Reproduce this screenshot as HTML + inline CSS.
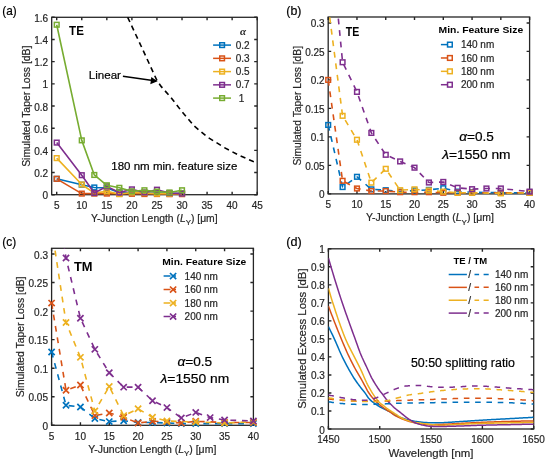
<!DOCTYPE html>
<html><head><meta charset="utf-8"><style>html,body{margin:0;padding:0;background:#fff;}svg{display:block}</style></head>
<body><svg width="550" height="466" viewBox="0 0 550 466">
<defs><filter id="bl" x="0" y="0" width="100%" height="100%"><feGaussianBlur stdDeviation="0.4"/></filter></defs>
<g filter="url(#bl)">
<rect width="550" height="466" fill="#fff"/>
<clipPath id="ca"><rect x="51.70" y="17.30" width="205.50" height="177.40"/></clipPath>
<path d="M56.71 194.70v-3.0M56.71 17.30v3.0M81.77 194.70v-3.0M81.77 17.30v3.0M106.83 194.70v-3.0M106.83 17.30v3.0M131.90 194.70v-3.0M131.90 17.30v3.0M156.96 194.70v-3.0M156.96 17.30v3.0M182.02 194.70v-3.0M182.02 17.30v3.0M207.08 194.70v-3.0M207.08 17.30v3.0M232.14 194.70v-3.0M232.14 17.30v3.0M257.20 194.70v-3.0M257.20 17.30v3.0M51.70 194.70h3.0M257.20 194.70h-3.0M51.70 172.52h3.0M257.20 172.52h-3.0M51.70 150.35h3.0M257.20 150.35h-3.0M51.70 128.18h3.0M257.20 128.18h-3.0M51.70 106.00h3.0M257.20 106.00h-3.0M51.70 83.83h3.0M257.20 83.83h-3.0M51.70 61.65h3.0M257.20 61.65h-3.0M51.70 39.48h3.0M257.20 39.48h-3.0M51.70 17.30h3.0M257.20 17.30h-3.0" stroke="#262626" stroke-width="1.4" fill="none"/>
<rect x="51.70" y="17.30" width="205.50" height="177.40" fill="none" stroke="#262626" stroke-width="1.3"/>
<g font-family="Liberation Sans, sans-serif" font-size="10" fill="#262626" stroke="#262626" stroke-width="0.2">
<text x="56.71" y="208.90" text-anchor="middle">5</text>
<text x="81.77" y="208.90" text-anchor="middle">10</text>
<text x="106.83" y="208.90" text-anchor="middle">15</text>
<text x="131.90" y="208.90" text-anchor="middle">20</text>
<text x="156.96" y="208.90" text-anchor="middle">25</text>
<text x="182.02" y="208.90" text-anchor="middle">30</text>
<text x="207.08" y="208.90" text-anchor="middle">35</text>
<text x="232.14" y="208.90" text-anchor="middle">40</text>
<text x="257.20" y="208.90" text-anchor="middle">45</text>
<text x="48.10" y="199.20" text-anchor="end">0</text>
<text x="48.10" y="177.02" text-anchor="end">0.2</text>
<text x="48.10" y="154.85" text-anchor="end">0.4</text>
<text x="48.10" y="132.68" text-anchor="end">0.6</text>
<text x="48.10" y="110.50" text-anchor="end">0.8</text>
<text x="48.10" y="88.33" text-anchor="end">1</text>
<text x="48.10" y="66.15" text-anchor="end">1.2</text>
<text x="48.10" y="43.98" text-anchor="end">1.4</text>
<text x="48.10" y="21.80" text-anchor="end">1.6</text>
</g>
<polyline clip-path="url(#ca)" points="56.71,178.84 81.77,184.72 94.30,187.49 106.83,188.05 119.36,192.48 131.90,192.48 144.43,193.04 156.96,193.04 169.49,193.59 182.02,193.37" fill="none" stroke="#0072BD" stroke-width="1.6" stroke-linejoin="round"/>
<rect x="54.36" y="176.49" width="4.7" height="4.7" fill="none" stroke="#0072BD" stroke-width="1.5"/>
<rect x="79.42" y="182.37" width="4.7" height="4.7" fill="none" stroke="#0072BD" stroke-width="1.5"/>
<rect x="91.95" y="185.14" width="4.7" height="4.7" fill="none" stroke="#0072BD" stroke-width="1.5"/>
<rect x="104.48" y="185.70" width="4.7" height="4.7" fill="none" stroke="#0072BD" stroke-width="1.5"/>
<rect x="117.01" y="190.13" width="4.7" height="4.7" fill="none" stroke="#0072BD" stroke-width="1.5"/>
<rect x="129.55" y="190.13" width="4.7" height="4.7" fill="none" stroke="#0072BD" stroke-width="1.5"/>
<rect x="142.08" y="190.69" width="4.7" height="4.7" fill="none" stroke="#0072BD" stroke-width="1.5"/>
<rect x="154.61" y="190.69" width="4.7" height="4.7" fill="none" stroke="#0072BD" stroke-width="1.5"/>
<rect x="167.14" y="191.24" width="4.7" height="4.7" fill="none" stroke="#0072BD" stroke-width="1.5"/>
<rect x="179.67" y="191.02" width="4.7" height="4.7" fill="none" stroke="#0072BD" stroke-width="1.5"/>
<polyline clip-path="url(#ca)" points="56.71,178.84 81.77,193.59 94.30,193.59 106.83,193.59 119.36,193.81 131.90,193.81 144.43,194.03 156.96,194.03 169.49,194.15 182.02,194.15" fill="none" stroke="#D95319" stroke-width="1.6" stroke-linejoin="round"/>
<rect x="54.36" y="176.49" width="4.7" height="4.7" fill="none" stroke="#D95319" stroke-width="1.5"/>
<rect x="79.42" y="191.24" width="4.7" height="4.7" fill="none" stroke="#D95319" stroke-width="1.5"/>
<rect x="91.95" y="191.24" width="4.7" height="4.7" fill="none" stroke="#D95319" stroke-width="1.5"/>
<rect x="104.48" y="191.24" width="4.7" height="4.7" fill="none" stroke="#D95319" stroke-width="1.5"/>
<rect x="117.01" y="191.46" width="4.7" height="4.7" fill="none" stroke="#D95319" stroke-width="1.5"/>
<rect x="129.55" y="191.46" width="4.7" height="4.7" fill="none" stroke="#D95319" stroke-width="1.5"/>
<rect x="142.08" y="191.68" width="4.7" height="4.7" fill="none" stroke="#D95319" stroke-width="1.5"/>
<rect x="154.61" y="191.68" width="4.7" height="4.7" fill="none" stroke="#D95319" stroke-width="1.5"/>
<rect x="167.14" y="191.80" width="4.7" height="4.7" fill="none" stroke="#D95319" stroke-width="1.5"/>
<rect x="179.67" y="191.80" width="4.7" height="4.7" fill="none" stroke="#D95319" stroke-width="1.5"/>
<polyline clip-path="url(#ca)" points="56.71,158.11 81.77,184.50 94.30,193.04 106.83,191.37 119.36,194.15 131.90,192.48 144.43,193.04 156.96,193.59 169.49,193.81 182.02,193.59" fill="none" stroke="#EDB120" stroke-width="1.6" stroke-linejoin="round"/>
<rect x="54.36" y="155.76" width="4.7" height="4.7" fill="none" stroke="#EDB120" stroke-width="1.5"/>
<rect x="79.42" y="182.15" width="4.7" height="4.7" fill="none" stroke="#EDB120" stroke-width="1.5"/>
<rect x="91.95" y="190.69" width="4.7" height="4.7" fill="none" stroke="#EDB120" stroke-width="1.5"/>
<rect x="104.48" y="189.02" width="4.7" height="4.7" fill="none" stroke="#EDB120" stroke-width="1.5"/>
<rect x="117.01" y="191.80" width="4.7" height="4.7" fill="none" stroke="#EDB120" stroke-width="1.5"/>
<rect x="129.55" y="190.13" width="4.7" height="4.7" fill="none" stroke="#EDB120" stroke-width="1.5"/>
<rect x="142.08" y="190.69" width="4.7" height="4.7" fill="none" stroke="#EDB120" stroke-width="1.5"/>
<rect x="154.61" y="191.24" width="4.7" height="4.7" fill="none" stroke="#EDB120" stroke-width="1.5"/>
<rect x="167.14" y="191.46" width="4.7" height="4.7" fill="none" stroke="#EDB120" stroke-width="1.5"/>
<rect x="179.67" y="191.24" width="4.7" height="4.7" fill="none" stroke="#EDB120" stroke-width="1.5"/>
<polyline clip-path="url(#ca)" points="56.71,142.59 81.77,175.19 94.30,193.04 106.83,186.38 119.36,192.48 131.90,189.38 144.43,192.48 156.96,189.71 169.49,193.04 182.02,193.59" fill="none" stroke="#7E2F8E" stroke-width="1.6" stroke-linejoin="round"/>
<rect x="54.36" y="140.24" width="4.7" height="4.7" fill="none" stroke="#7E2F8E" stroke-width="1.5"/>
<rect x="79.42" y="172.84" width="4.7" height="4.7" fill="none" stroke="#7E2F8E" stroke-width="1.5"/>
<rect x="91.95" y="190.69" width="4.7" height="4.7" fill="none" stroke="#7E2F8E" stroke-width="1.5"/>
<rect x="104.48" y="184.03" width="4.7" height="4.7" fill="none" stroke="#7E2F8E" stroke-width="1.5"/>
<rect x="117.01" y="190.13" width="4.7" height="4.7" fill="none" stroke="#7E2F8E" stroke-width="1.5"/>
<rect x="129.55" y="187.03" width="4.7" height="4.7" fill="none" stroke="#7E2F8E" stroke-width="1.5"/>
<rect x="142.08" y="190.13" width="4.7" height="4.7" fill="none" stroke="#7E2F8E" stroke-width="1.5"/>
<rect x="154.61" y="187.36" width="4.7" height="4.7" fill="none" stroke="#7E2F8E" stroke-width="1.5"/>
<rect x="167.14" y="190.69" width="4.7" height="4.7" fill="none" stroke="#7E2F8E" stroke-width="1.5"/>
<rect x="179.67" y="191.24" width="4.7" height="4.7" fill="none" stroke="#7E2F8E" stroke-width="1.5"/>
<polyline clip-path="url(#ca)" points="56.71,24.73 81.77,140.37 94.30,174.96 106.83,185.28 119.36,187.83 131.90,191.37 144.43,190.26 156.96,191.60 169.49,192.48 182.02,190.26" fill="none" stroke="#77AC30" stroke-width="1.6" stroke-linejoin="round"/>
<rect x="54.36" y="22.38" width="4.7" height="4.7" fill="none" stroke="#77AC30" stroke-width="1.5"/>
<rect x="79.42" y="138.02" width="4.7" height="4.7" fill="none" stroke="#77AC30" stroke-width="1.5"/>
<rect x="91.95" y="172.61" width="4.7" height="4.7" fill="none" stroke="#77AC30" stroke-width="1.5"/>
<rect x="104.48" y="182.93" width="4.7" height="4.7" fill="none" stroke="#77AC30" stroke-width="1.5"/>
<rect x="117.01" y="185.48" width="4.7" height="4.7" fill="none" stroke="#77AC30" stroke-width="1.5"/>
<rect x="129.55" y="189.02" width="4.7" height="4.7" fill="none" stroke="#77AC30" stroke-width="1.5"/>
<rect x="142.08" y="187.91" width="4.7" height="4.7" fill="none" stroke="#77AC30" stroke-width="1.5"/>
<rect x="154.61" y="189.25" width="4.7" height="4.7" fill="none" stroke="#77AC30" stroke-width="1.5"/>
<rect x="167.14" y="190.13" width="4.7" height="4.7" fill="none" stroke="#77AC30" stroke-width="1.5"/>
<rect x="179.67" y="187.91" width="4.7" height="4.7" fill="none" stroke="#77AC30" stroke-width="1.5"/>
<polyline points="127.7,17.3 142,48 156.9,80.4 161.1,86.4 170.7,97.2 181.5,111.1 194.3,126.1 207.2,136.9 224.4,147.6 239.4,155.5 253.3,161.5 257.2,162.8" fill="none" stroke="#000" stroke-width="1.6" stroke-dasharray="5.2 4"/>
<text x="88.70" y="78.90" font-family="Liberation Sans, sans-serif" font-size="11.4" text-anchor="start" fill="#000" stroke="#000" stroke-width="0.2" textLength="32.3" lengthAdjust="spacingAndGlyphs">Linear</text>
<path d="M122.9 76.3L151 80.3" stroke="#000" stroke-width="1.4"/>
<path d="M157.6 81.3L150.3 84.2L151.3 77.0Z" fill="#000"/>
<text x="69.10" y="35.20" font-family="Liberation Sans, sans-serif" font-size="12.5" text-anchor="start" fill="#000" stroke="#000" stroke-width="0" font-weight="bold" textLength="14.8" lengthAdjust="spacingAndGlyphs">TE</text>
<text x="111.30" y="170.00" font-family="Liberation Sans, sans-serif" font-size="11.5" text-anchor="start" fill="#000" stroke="#000" stroke-width="0.2" textLength="126" lengthAdjust="spacingAndGlyphs">180 nm min. feature size</text>
<text x="243" y="35" font-family="Liberation Serif, serif" font-size="11" font-style="italic" font-weight="bold" text-anchor="middle" fill="#262626">α</text>
<path d="M213.1 45.10H231" stroke="#0072BD" stroke-width="1.5"/>
<rect x="219.75" y="42.75" width="4.7" height="4.7" fill="none" stroke="#0072BD" stroke-width="1.5"/>
<text x="235.70" y="48.70" font-family="Liberation Sans, sans-serif" font-size="10" text-anchor="start" fill="#262626" stroke="#262626" stroke-width="0.2">0.2</text>
<path d="M213.1 58.35H231" stroke="#D95319" stroke-width="1.5"/>
<rect x="219.75" y="56.00" width="4.7" height="4.7" fill="none" stroke="#D95319" stroke-width="1.5"/>
<text x="235.70" y="61.95" font-family="Liberation Sans, sans-serif" font-size="10" text-anchor="start" fill="#262626" stroke="#262626" stroke-width="0.2">0.3</text>
<path d="M213.1 71.60H231" stroke="#EDB120" stroke-width="1.5"/>
<rect x="219.75" y="69.25" width="4.7" height="4.7" fill="none" stroke="#EDB120" stroke-width="1.5"/>
<text x="235.70" y="75.20" font-family="Liberation Sans, sans-serif" font-size="10" text-anchor="start" fill="#262626" stroke="#262626" stroke-width="0.2">0.5</text>
<path d="M213.1 84.85H231" stroke="#7E2F8E" stroke-width="1.5"/>
<rect x="219.75" y="82.50" width="4.7" height="4.7" fill="none" stroke="#7E2F8E" stroke-width="1.5"/>
<text x="235.70" y="88.45" font-family="Liberation Sans, sans-serif" font-size="10" text-anchor="start" fill="#262626" stroke="#262626" stroke-width="0.2">0.7</text>
<path d="M213.1 98.10H231" stroke="#77AC30" stroke-width="1.5"/>
<rect x="219.75" y="95.75" width="4.7" height="4.7" fill="none" stroke="#77AC30" stroke-width="1.5"/>
<text x="241.50" y="101.70" font-family="Liberation Sans, sans-serif" font-size="10" text-anchor="middle" fill="#262626" stroke="#262626" stroke-width="0.2">1</text>
<text transform="translate(30.40,106.20) rotate(-90)" x="0" y="0" font-family="Liberation Sans, sans-serif" font-size="10.5" text-anchor="middle" fill="#262626" stroke="#262626" stroke-width="0.2" textLength="121.3" lengthAdjust="spacingAndGlyphs">Simulated Taper Loss [dB]</text>
<text x="154.30" y="221.80" font-family="Liberation Sans, sans-serif" font-size="10.5" text-anchor="middle" fill="#262626" stroke="#262626" stroke-width="0.2" textLength="126.7" lengthAdjust="spacingAndGlyphs">Y-Junction Length (<tspan font-style="italic">L</tspan><tspan font-size="8.0" dy="3.2">Y</tspan><tspan dy="-3.2">) [μm]</tspan></text>
<text x="2.30" y="14.80" font-family="Liberation Sans, sans-serif" font-size="13" text-anchor="start" fill="#000" stroke="#000" stroke-width="0.2" textLength="14.4" lengthAdjust="spacingAndGlyphs">(a)</text>
<clipPath id="cb"><rect x="328.20" y="17.00" width="201.40" height="176.90"/></clipPath>
<path d="M328.20 193.90v-3.0M328.20 17.00v3.0M356.97 193.90v-3.0M356.97 17.00v3.0M385.74 193.90v-3.0M385.74 17.00v3.0M414.51 193.90v-3.0M414.51 17.00v3.0M443.29 193.90v-3.0M443.29 17.00v3.0M472.06 193.90v-3.0M472.06 17.00v3.0M500.83 193.90v-3.0M500.83 17.00v3.0M529.60 193.90v-3.0M529.60 17.00v3.0M328.20 193.90h3.0M529.60 193.90h-3.0M328.20 165.40h3.0M529.60 165.40h-3.0M328.20 136.91h3.0M529.60 136.91h-3.0M328.20 108.41h3.0M529.60 108.41h-3.0M328.20 79.92h3.0M529.60 79.92h-3.0M328.20 51.42h3.0M529.60 51.42h-3.0M328.20 22.93h3.0M529.60 22.93h-3.0" stroke="#262626" stroke-width="1.4" fill="none"/>
<rect x="328.20" y="17.00" width="201.40" height="176.90" fill="none" stroke="#262626" stroke-width="1.3"/>
<g font-family="Liberation Sans, sans-serif" font-size="10" fill="#262626" stroke="#262626" stroke-width="0.2">
<text x="328.20" y="208.10" text-anchor="middle">5</text>
<text x="356.97" y="208.10" text-anchor="middle">10</text>
<text x="385.74" y="208.10" text-anchor="middle">15</text>
<text x="414.51" y="208.10" text-anchor="middle">20</text>
<text x="443.29" y="208.10" text-anchor="middle">25</text>
<text x="472.06" y="208.10" text-anchor="middle">30</text>
<text x="500.83" y="208.10" text-anchor="middle">35</text>
<text x="529.60" y="208.10" text-anchor="middle">40</text>
<text x="324.60" y="198.40" text-anchor="end">0</text>
<text x="324.60" y="169.90" text-anchor="end">0.05</text>
<text x="324.60" y="141.41" text-anchor="end">0.1</text>
<text x="324.60" y="112.91" text-anchor="end">0.15</text>
<text x="324.60" y="84.42" text-anchor="end">0.2</text>
<text x="324.60" y="55.92" text-anchor="end">0.25</text>
<text x="324.60" y="27.43" text-anchor="end">0.3</text>
</g>
<polyline clip-path="url(#cb)" points="328.20,124.94 342.59,187.06 356.97,176.80 371.36,189.34 385.74,190.20 400.13,191.62 414.51,190.48 428.90,189.91 443.29,188.20 457.67,191.62 472.06,192.19 500.83,192.76 529.60,192.76" fill="none" stroke="#0072BD" stroke-width="1.6" stroke-dasharray="5.8 5.8" stroke-linejoin="round"/>
<rect x="325.85" y="122.59" width="4.7" height="4.7" fill="none" stroke="#0072BD" stroke-width="1.5"/>
<rect x="340.24" y="184.71" width="4.7" height="4.7" fill="none" stroke="#0072BD" stroke-width="1.5"/>
<rect x="354.62" y="174.45" width="4.7" height="4.7" fill="none" stroke="#0072BD" stroke-width="1.5"/>
<rect x="369.01" y="186.99" width="4.7" height="4.7" fill="none" stroke="#0072BD" stroke-width="1.5"/>
<rect x="383.39" y="187.85" width="4.7" height="4.7" fill="none" stroke="#0072BD" stroke-width="1.5"/>
<rect x="397.78" y="189.27" width="4.7" height="4.7" fill="none" stroke="#0072BD" stroke-width="1.5"/>
<rect x="412.16" y="188.13" width="4.7" height="4.7" fill="none" stroke="#0072BD" stroke-width="1.5"/>
<rect x="426.55" y="187.56" width="4.7" height="4.7" fill="none" stroke="#0072BD" stroke-width="1.5"/>
<rect x="440.94" y="185.85" width="4.7" height="4.7" fill="none" stroke="#0072BD" stroke-width="1.5"/>
<rect x="455.32" y="189.27" width="4.7" height="4.7" fill="none" stroke="#0072BD" stroke-width="1.5"/>
<rect x="469.71" y="189.84" width="4.7" height="4.7" fill="none" stroke="#0072BD" stroke-width="1.5"/>
<rect x="498.48" y="190.41" width="4.7" height="4.7" fill="none" stroke="#0072BD" stroke-width="1.5"/>
<rect x="527.25" y="190.41" width="4.7" height="4.7" fill="none" stroke="#0072BD" stroke-width="1.5"/>
<polyline clip-path="url(#cb)" points="328.20,79.92 342.59,180.79 356.97,188.49 371.36,191.05 385.74,191.05 400.13,192.19 414.51,192.19 428.90,192.19 443.29,192.76 457.67,192.76 472.06,192.76 500.83,192.76 529.60,192.76" fill="none" stroke="#D95319" stroke-width="1.6" stroke-dasharray="5.8 5.8" stroke-linejoin="round"/>
<rect x="325.85" y="77.57" width="4.7" height="4.7" fill="none" stroke="#D95319" stroke-width="1.5"/>
<rect x="340.24" y="178.44" width="4.7" height="4.7" fill="none" stroke="#D95319" stroke-width="1.5"/>
<rect x="354.62" y="186.14" width="4.7" height="4.7" fill="none" stroke="#D95319" stroke-width="1.5"/>
<rect x="369.01" y="188.70" width="4.7" height="4.7" fill="none" stroke="#D95319" stroke-width="1.5"/>
<rect x="383.39" y="188.70" width="4.7" height="4.7" fill="none" stroke="#D95319" stroke-width="1.5"/>
<rect x="397.78" y="189.84" width="4.7" height="4.7" fill="none" stroke="#D95319" stroke-width="1.5"/>
<rect x="412.16" y="189.84" width="4.7" height="4.7" fill="none" stroke="#D95319" stroke-width="1.5"/>
<rect x="426.55" y="189.84" width="4.7" height="4.7" fill="none" stroke="#D95319" stroke-width="1.5"/>
<rect x="440.94" y="190.41" width="4.7" height="4.7" fill="none" stroke="#D95319" stroke-width="1.5"/>
<rect x="455.32" y="190.41" width="4.7" height="4.7" fill="none" stroke="#D95319" stroke-width="1.5"/>
<rect x="469.71" y="190.41" width="4.7" height="4.7" fill="none" stroke="#D95319" stroke-width="1.5"/>
<rect x="498.48" y="190.41" width="4.7" height="4.7" fill="none" stroke="#D95319" stroke-width="1.5"/>
<rect x="527.25" y="190.41" width="4.7" height="4.7" fill="none" stroke="#D95319" stroke-width="1.5"/>
<polyline clip-path="url(#cb)" points="328.20,5.83 342.59,115.82 356.97,139.76 371.36,182.67 385.74,168.82 400.13,190.20 414.51,189.34 428.90,190.48 443.29,191.62 457.67,192.76 472.06,192.76 500.83,193.33 529.60,192.76" fill="none" stroke="#EDB120" stroke-width="1.6" stroke-dasharray="5.8 5.8" stroke-linejoin="round"/>
<rect x="340.24" y="113.47" width="4.7" height="4.7" fill="none" stroke="#EDB120" stroke-width="1.5"/>
<rect x="354.62" y="137.41" width="4.7" height="4.7" fill="none" stroke="#EDB120" stroke-width="1.5"/>
<rect x="369.01" y="180.32" width="4.7" height="4.7" fill="none" stroke="#EDB120" stroke-width="1.5"/>
<rect x="383.39" y="166.47" width="4.7" height="4.7" fill="none" stroke="#EDB120" stroke-width="1.5"/>
<rect x="397.78" y="187.85" width="4.7" height="4.7" fill="none" stroke="#EDB120" stroke-width="1.5"/>
<rect x="412.16" y="186.99" width="4.7" height="4.7" fill="none" stroke="#EDB120" stroke-width="1.5"/>
<rect x="426.55" y="188.13" width="4.7" height="4.7" fill="none" stroke="#EDB120" stroke-width="1.5"/>
<rect x="440.94" y="189.27" width="4.7" height="4.7" fill="none" stroke="#EDB120" stroke-width="1.5"/>
<rect x="455.32" y="190.41" width="4.7" height="4.7" fill="none" stroke="#EDB120" stroke-width="1.5"/>
<rect x="469.71" y="190.41" width="4.7" height="4.7" fill="none" stroke="#EDB120" stroke-width="1.5"/>
<rect x="498.48" y="190.98" width="4.7" height="4.7" fill="none" stroke="#EDB120" stroke-width="1.5"/>
<rect x="527.25" y="190.41" width="4.7" height="4.7" fill="none" stroke="#EDB120" stroke-width="1.5"/>
<polyline clip-path="url(#cb)" points="328.20,-85.36 342.59,62.25 356.97,91.89 371.36,132.92 385.74,154.80 400.13,161.42 414.51,167.68 428.90,182.50 443.29,181.93 457.67,187.80 472.06,189.17 486.44,188.49 500.83,188.49 529.60,191.62" fill="none" stroke="#7E2F8E" stroke-width="1.6" stroke-dasharray="5.8 5.8" stroke-linejoin="round"/>
<rect x="340.24" y="59.90" width="4.7" height="4.7" fill="none" stroke="#7E2F8E" stroke-width="1.5"/>
<rect x="354.62" y="89.54" width="4.7" height="4.7" fill="none" stroke="#7E2F8E" stroke-width="1.5"/>
<rect x="369.01" y="130.57" width="4.7" height="4.7" fill="none" stroke="#7E2F8E" stroke-width="1.5"/>
<rect x="383.39" y="152.45" width="4.7" height="4.7" fill="none" stroke="#7E2F8E" stroke-width="1.5"/>
<rect x="397.78" y="159.07" width="4.7" height="4.7" fill="none" stroke="#7E2F8E" stroke-width="1.5"/>
<rect x="412.16" y="165.33" width="4.7" height="4.7" fill="none" stroke="#7E2F8E" stroke-width="1.5"/>
<rect x="426.55" y="180.15" width="4.7" height="4.7" fill="none" stroke="#7E2F8E" stroke-width="1.5"/>
<rect x="440.94" y="179.58" width="4.7" height="4.7" fill="none" stroke="#7E2F8E" stroke-width="1.5"/>
<rect x="455.32" y="185.45" width="4.7" height="4.7" fill="none" stroke="#7E2F8E" stroke-width="1.5"/>
<rect x="469.71" y="186.82" width="4.7" height="4.7" fill="none" stroke="#7E2F8E" stroke-width="1.5"/>
<rect x="484.09" y="186.14" width="4.7" height="4.7" fill="none" stroke="#7E2F8E" stroke-width="1.5"/>
<rect x="498.48" y="186.14" width="4.7" height="4.7" fill="none" stroke="#7E2F8E" stroke-width="1.5"/>
<rect x="527.25" y="189.27" width="4.7" height="4.7" fill="none" stroke="#7E2F8E" stroke-width="1.5"/>
<text x="345.80" y="36.00" font-family="Liberation Sans, sans-serif" font-size="12.5" text-anchor="start" fill="#000" stroke="#000" stroke-width="0" font-weight="bold" textLength="13.5" lengthAdjust="spacingAndGlyphs">TE</text>
<text x="438.60" y="33.10" font-family="Liberation Sans, sans-serif" font-size="9.6" text-anchor="start" fill="#000" stroke="#000" stroke-width="0" font-weight="bold" textLength="84.6" lengthAdjust="spacingAndGlyphs">Min. Feature Size</text>
<path d="M440.9 44.60H447" stroke="#0072BD" stroke-width="1.5"/>
<rect x="447.55" y="42.25" width="4.7" height="4.7" fill="none" stroke="#0072BD" stroke-width="1.5"/>
<text x="460.90" y="48.20" font-family="Liberation Sans, sans-serif" font-size="10" text-anchor="start" fill="#262626" stroke="#262626" stroke-width="0.2">140 nm</text>
<path d="M440.9 57.97H447" stroke="#D95319" stroke-width="1.5"/>
<rect x="447.55" y="55.62" width="4.7" height="4.7" fill="none" stroke="#D95319" stroke-width="1.5"/>
<text x="460.90" y="61.57" font-family="Liberation Sans, sans-serif" font-size="10" text-anchor="start" fill="#262626" stroke="#262626" stroke-width="0.2">160 nm</text>
<path d="M440.9 71.34H447" stroke="#EDB120" stroke-width="1.5"/>
<rect x="447.55" y="68.99" width="4.7" height="4.7" fill="none" stroke="#EDB120" stroke-width="1.5"/>
<text x="460.90" y="74.94" font-family="Liberation Sans, sans-serif" font-size="10" text-anchor="start" fill="#262626" stroke="#262626" stroke-width="0.2">180 nm</text>
<path d="M440.9 84.71H447" stroke="#7E2F8E" stroke-width="1.5"/>
<rect x="447.55" y="82.36" width="4.7" height="4.7" fill="none" stroke="#7E2F8E" stroke-width="1.5"/>
<text x="460.90" y="88.31" font-family="Liberation Sans, sans-serif" font-size="10" text-anchor="start" fill="#262626" stroke="#262626" stroke-width="0.2">200 nm</text>
<text x="459.30" y="140.90" font-family="Liberation Sans, sans-serif" font-size="13" text-anchor="start" fill="#000" stroke="#000" stroke-width="0.2" textLength="34.5" lengthAdjust="spacingAndGlyphs"><tspan font-style="italic">α</tspan>=0.5</text>
<text x="442.20" y="159.00" font-family="Liberation Sans, sans-serif" font-size="13" text-anchor="start" fill="#000" stroke="#000" stroke-width="0.2" textLength="68.3" lengthAdjust="spacingAndGlyphs"><tspan font-style="italic">λ</tspan>=1550 nm</text>
<text transform="translate(300.90,105.80) rotate(-90)" x="0" y="0" font-family="Liberation Sans, sans-serif" font-size="10.5" text-anchor="middle" fill="#262626" stroke="#262626" stroke-width="0.2" textLength="119.6" lengthAdjust="spacingAndGlyphs">Simulated Taper Loss [dB]</text>
<text x="429.90" y="221.40" font-family="Liberation Sans, sans-serif" font-size="10.5" text-anchor="middle" fill="#262626" stroke="#262626" stroke-width="0.2" textLength="128" lengthAdjust="spacingAndGlyphs">Y-Junction Length (<tspan font-style="italic">L</tspan><tspan font-size="8.0" dy="3.2">Y</tspan><tspan dy="-3.2">) [μm]</tspan></text>
<text x="286.30" y="14.80" font-family="Liberation Sans, sans-serif" font-size="13" text-anchor="start" fill="#000" stroke="#000" stroke-width="0.2" textLength="15.1" lengthAdjust="spacingAndGlyphs">(b)</text>
<clipPath id="cc"><rect x="51.60" y="248.30" width="201.80" height="177.00"/></clipPath>
<path d="M51.60 425.30v-3.0M51.60 248.30v3.0M80.43 425.30v-3.0M80.43 248.30v3.0M109.26 425.30v-3.0M109.26 248.30v3.0M138.09 425.30v-3.0M138.09 248.30v3.0M166.91 425.30v-3.0M166.91 248.30v3.0M195.74 425.30v-3.0M195.74 248.30v3.0M224.57 425.30v-3.0M224.57 248.30v3.0M253.40 425.30v-3.0M253.40 248.30v3.0M51.60 425.30h3.0M253.40 425.30h-3.0M51.60 396.75h3.0M253.40 396.75h-3.0M51.60 368.20h3.0M253.40 368.20h-3.0M51.60 339.65h3.0M253.40 339.65h-3.0M51.60 311.10h3.0M253.40 311.10h-3.0M51.60 282.55h3.0M253.40 282.55h-3.0M51.60 254.00h3.0M253.40 254.00h-3.0" stroke="#262626" stroke-width="1.4" fill="none"/>
<rect x="51.60" y="248.30" width="201.80" height="177.00" fill="none" stroke="#262626" stroke-width="1.3"/>
<g font-family="Liberation Sans, sans-serif" font-size="10" fill="#262626" stroke="#262626" stroke-width="0.2">
<text x="51.60" y="439.50" text-anchor="middle">5</text>
<text x="80.43" y="439.50" text-anchor="middle">10</text>
<text x="109.26" y="439.50" text-anchor="middle">15</text>
<text x="138.09" y="439.50" text-anchor="middle">20</text>
<text x="166.91" y="439.50" text-anchor="middle">25</text>
<text x="195.74" y="439.50" text-anchor="middle">30</text>
<text x="224.57" y="439.50" text-anchor="middle">35</text>
<text x="253.40" y="439.50" text-anchor="middle">40</text>
<text x="48.00" y="429.80" text-anchor="end">0</text>
<text x="48.00" y="401.25" text-anchor="end">0.05</text>
<text x="48.00" y="372.70" text-anchor="end">0.1</text>
<text x="48.00" y="344.15" text-anchor="end">0.15</text>
<text x="48.00" y="315.60" text-anchor="end">0.2</text>
<text x="48.00" y="287.05" text-anchor="end">0.25</text>
<text x="48.00" y="258.50" text-anchor="end">0.3</text>
</g>
<polyline clip-path="url(#cc)" points="51.60,351.93 66.01,405.31 80.43,407.03 94.84,418.45 109.26,421.59 123.67,420.73 138.09,422.44 152.50,422.44 166.91,423.02 181.33,423.59 195.74,423.59 224.57,423.59 253.40,423.59" fill="none" stroke="#0072BD" stroke-width="1.6" stroke-dasharray="5.8 5.8" stroke-linejoin="round"/>
<path d="M48.50 348.83L54.70 355.03M48.50 355.03L54.70 348.83" stroke="#0072BD" stroke-width="1.7" fill="none"/>
<path d="M62.91 402.21L69.11 408.42M62.91 408.42L69.11 402.21" stroke="#0072BD" stroke-width="1.7" fill="none"/>
<path d="M77.33 403.93L83.53 410.13M77.33 410.13L83.53 403.93" stroke="#0072BD" stroke-width="1.7" fill="none"/>
<path d="M91.74 415.35L97.94 421.55M91.74 421.55L97.94 415.35" stroke="#0072BD" stroke-width="1.7" fill="none"/>
<path d="M106.16 418.49L112.36 424.69M106.16 424.69L112.36 418.49" stroke="#0072BD" stroke-width="1.7" fill="none"/>
<path d="M120.57 417.63L126.77 423.83M120.57 423.83L126.77 417.63" stroke="#0072BD" stroke-width="1.7" fill="none"/>
<path d="M134.99 419.34L141.19 425.55M134.99 425.55L141.19 419.34" stroke="#0072BD" stroke-width="1.7" fill="none"/>
<path d="M149.40 419.34L155.60 425.55M149.40 425.55L155.60 419.34" stroke="#0072BD" stroke-width="1.7" fill="none"/>
<path d="M163.81 419.92L170.01 426.12M163.81 426.12L170.01 419.92" stroke="#0072BD" stroke-width="1.7" fill="none"/>
<path d="M178.23 420.49L184.43 426.69M178.23 426.69L184.43 420.49" stroke="#0072BD" stroke-width="1.7" fill="none"/>
<path d="M192.64 420.49L198.84 426.69M192.64 426.69L198.84 420.49" stroke="#0072BD" stroke-width="1.7" fill="none"/>
<path d="M221.47 420.49L227.67 426.69M221.47 426.69L227.67 420.49" stroke="#0072BD" stroke-width="1.7" fill="none"/>
<path d="M250.30 420.49L256.50 426.69M250.30 426.69L256.50 420.49" stroke="#0072BD" stroke-width="1.7" fill="none"/>
<polyline clip-path="url(#cc)" points="51.60,303.11 66.01,390.18 80.43,385.04 94.84,415.59 109.26,413.02 123.67,417.31 138.09,423.02 152.50,421.30 166.91,421.87 181.33,423.02 195.74,421.30 224.57,422.44 253.40,422.44" fill="none" stroke="#D95319" stroke-width="1.6" stroke-dasharray="5.8 5.8" stroke-linejoin="round"/>
<path d="M48.50 300.01L54.70 306.21M48.50 306.21L54.70 300.01" stroke="#D95319" stroke-width="1.7" fill="none"/>
<path d="M62.91 387.08L69.11 393.28M62.91 393.28L69.11 387.08" stroke="#D95319" stroke-width="1.7" fill="none"/>
<path d="M77.33 381.94L83.53 388.14M77.33 388.14L83.53 381.94" stroke="#D95319" stroke-width="1.7" fill="none"/>
<path d="M91.74 412.49L97.94 418.69M91.74 418.69L97.94 412.49" stroke="#D95319" stroke-width="1.7" fill="none"/>
<path d="M106.16 409.92L112.36 416.12M106.16 416.12L112.36 409.92" stroke="#D95319" stroke-width="1.7" fill="none"/>
<path d="M120.57 414.21L126.77 420.41M120.57 420.41L126.77 414.21" stroke="#D95319" stroke-width="1.7" fill="none"/>
<path d="M134.99 419.92L141.19 426.12M134.99 426.12L141.19 419.92" stroke="#D95319" stroke-width="1.7" fill="none"/>
<path d="M149.40 418.20L155.60 424.40M149.40 424.40L155.60 418.20" stroke="#D95319" stroke-width="1.7" fill="none"/>
<path d="M163.81 418.77L170.01 424.97M163.81 424.97L170.01 418.77" stroke="#D95319" stroke-width="1.7" fill="none"/>
<path d="M178.23 419.92L184.43 426.12M178.23 426.12L184.43 419.92" stroke="#D95319" stroke-width="1.7" fill="none"/>
<path d="M192.64 418.20L198.84 424.40M192.64 424.40L198.84 418.20" stroke="#D95319" stroke-width="1.7" fill="none"/>
<path d="M221.47 419.34L227.67 425.55M221.47 425.55L227.67 419.34" stroke="#D95319" stroke-width="1.7" fill="none"/>
<path d="M250.30 419.34L256.50 425.55M250.30 425.55L256.50 419.34" stroke="#D95319" stroke-width="1.7" fill="none"/>
<polyline clip-path="url(#cc)" points="51.60,227.73 66.01,322.52 80.43,357.35 94.84,411.03 109.26,386.47 123.67,415.59 138.09,408.74 152.50,417.31 166.91,421.02 195.74,421.99 224.57,423.02 253.40,421.87" fill="none" stroke="#EDB120" stroke-width="1.6" stroke-dasharray="5.8 5.8" stroke-linejoin="round"/>
<path d="M62.91 319.42L69.11 325.62M62.91 325.62L69.11 319.42" stroke="#EDB120" stroke-width="1.7" fill="none"/>
<path d="M77.33 354.25L83.53 360.45M77.33 360.45L83.53 354.25" stroke="#EDB120" stroke-width="1.7" fill="none"/>
<path d="M91.74 407.93L97.94 414.13M91.74 414.13L97.94 407.93" stroke="#EDB120" stroke-width="1.7" fill="none"/>
<path d="M106.16 383.37L112.36 389.57M106.16 389.57L112.36 383.37" stroke="#EDB120" stroke-width="1.7" fill="none"/>
<path d="M120.57 412.49L126.77 418.69M120.57 418.69L126.77 412.49" stroke="#EDB120" stroke-width="1.7" fill="none"/>
<path d="M134.99 405.64L141.19 411.84M134.99 411.84L141.19 405.64" stroke="#EDB120" stroke-width="1.7" fill="none"/>
<path d="M149.40 414.21L155.60 420.41M149.40 420.41L155.60 414.21" stroke="#EDB120" stroke-width="1.7" fill="none"/>
<path d="M163.81 417.92L170.01 424.12M163.81 424.12L170.01 417.92" stroke="#EDB120" stroke-width="1.7" fill="none"/>
<path d="M192.64 418.89L198.84 425.09M192.64 425.09L198.84 418.89" stroke="#EDB120" stroke-width="1.7" fill="none"/>
<path d="M221.47 419.92L227.67 426.12M221.47 426.12L227.67 419.92" stroke="#EDB120" stroke-width="1.7" fill="none"/>
<path d="M250.30 418.77L256.50 424.97M250.30 424.97L256.50 418.77" stroke="#EDB120" stroke-width="1.7" fill="none"/>
<polyline clip-path="url(#cc)" points="51.60,162.64 66.01,258.00 80.43,318.24 94.84,349.36 109.26,372.77 123.67,387.16 138.09,387.16 152.50,400.75 166.91,407.60 181.33,417.88 195.74,412.40 210.16,417.59 224.57,419.99 253.40,421.02" fill="none" stroke="#7E2F8E" stroke-width="1.6" stroke-dasharray="5.8 5.8" stroke-linejoin="round"/>
<path d="M62.91 254.90L69.11 261.10M62.91 261.10L69.11 254.90" stroke="#7E2F8E" stroke-width="1.7" fill="none"/>
<path d="M77.33 315.14L83.53 321.34M77.33 321.34L83.53 315.14" stroke="#7E2F8E" stroke-width="1.7" fill="none"/>
<path d="M91.74 346.26L97.94 352.46M91.74 352.46L97.94 346.26" stroke="#7E2F8E" stroke-width="1.7" fill="none"/>
<path d="M106.16 369.67L112.36 375.87M106.16 375.87L112.36 369.67" stroke="#7E2F8E" stroke-width="1.7" fill="none"/>
<path d="M120.57 384.06L126.77 390.26M120.57 390.26L126.77 384.06" stroke="#7E2F8E" stroke-width="1.7" fill="none"/>
<path d="M134.99 384.06L141.19 390.26M134.99 390.26L141.19 384.06" stroke="#7E2F8E" stroke-width="1.7" fill="none"/>
<path d="M149.40 397.65L155.60 403.85M149.40 403.85L155.60 397.65" stroke="#7E2F8E" stroke-width="1.7" fill="none"/>
<path d="M163.81 404.50L170.01 410.70M163.81 410.70L170.01 404.50" stroke="#7E2F8E" stroke-width="1.7" fill="none"/>
<path d="M178.23 414.78L184.43 420.98M178.23 420.98L184.43 414.78" stroke="#7E2F8E" stroke-width="1.7" fill="none"/>
<path d="M192.64 409.30L198.84 415.50M192.64 415.50L198.84 409.30" stroke="#7E2F8E" stroke-width="1.7" fill="none"/>
<path d="M207.06 414.49L213.26 420.69M207.06 420.69L213.26 414.49" stroke="#7E2F8E" stroke-width="1.7" fill="none"/>
<path d="M221.47 416.89L227.67 423.09M221.47 423.09L227.67 416.89" stroke="#7E2F8E" stroke-width="1.7" fill="none"/>
<path d="M250.30 417.92L256.50 424.12M250.30 424.12L256.50 417.92" stroke="#7E2F8E" stroke-width="1.7" fill="none"/>
<text x="74.00" y="271.20" font-family="Liberation Sans, sans-serif" font-size="12.5" text-anchor="start" fill="#000" stroke="#000" stroke-width="0" font-weight="bold" textLength="18.6" lengthAdjust="spacingAndGlyphs">TM</text>
<text x="162.30" y="265.00" font-family="Liberation Sans, sans-serif" font-size="9.6" text-anchor="start" fill="#000" stroke="#000" stroke-width="0" font-weight="bold" textLength="84.0" lengthAdjust="spacingAndGlyphs">Min. Feature Size</text>
<path d="M163.6 276.10H170.5M172 276.10H176" stroke="#0072BD" stroke-width="1.5"/>
<path d="M170.00 273.00L176.20 279.20M170.00 279.20L176.20 273.00" stroke="#0072BD" stroke-width="1.7" fill="none"/>
<text x="184.60" y="279.70" font-family="Liberation Sans, sans-serif" font-size="10" text-anchor="start" fill="#262626" stroke="#262626" stroke-width="0.2">140 nm</text>
<path d="M163.6 289.60H170.5M172 289.60H176" stroke="#D95319" stroke-width="1.5"/>
<path d="M170.00 286.50L176.20 292.70M170.00 292.70L176.20 286.50" stroke="#D95319" stroke-width="1.7" fill="none"/>
<text x="184.60" y="293.20" font-family="Liberation Sans, sans-serif" font-size="10" text-anchor="start" fill="#262626" stroke="#262626" stroke-width="0.2">160 nm</text>
<path d="M163.6 303.10H170.5M172 303.10H176" stroke="#EDB120" stroke-width="1.5"/>
<path d="M170.00 300.00L176.20 306.20M170.00 306.20L176.20 300.00" stroke="#EDB120" stroke-width="1.7" fill="none"/>
<text x="184.60" y="306.70" font-family="Liberation Sans, sans-serif" font-size="10" text-anchor="start" fill="#262626" stroke="#262626" stroke-width="0.2">180 nm</text>
<path d="M163.6 316.60H170.5M172 316.60H176" stroke="#7E2F8E" stroke-width="1.5"/>
<path d="M170.00 313.50L176.20 319.70M170.00 319.70L176.20 313.50" stroke="#7E2F8E" stroke-width="1.7" fill="none"/>
<text x="184.60" y="320.20" font-family="Liberation Sans, sans-serif" font-size="10" text-anchor="start" fill="#262626" stroke="#262626" stroke-width="0.2">200 nm</text>
<text x="177.50" y="365.50" font-family="Liberation Sans, sans-serif" font-size="13" text-anchor="start" fill="#000" stroke="#000" stroke-width="0.2" textLength="34.7" lengthAdjust="spacingAndGlyphs"><tspan font-style="italic">α</tspan>=0.5</text>
<text x="160.50" y="383.20" font-family="Liberation Sans, sans-serif" font-size="13" text-anchor="start" fill="#000" stroke="#000" stroke-width="0.2" textLength="68.7" lengthAdjust="spacingAndGlyphs"><tspan font-style="italic">λ</tspan>=1550 nm</text>
<text transform="translate(23.90,336.90) rotate(-90)" x="0" y="0" font-family="Liberation Sans, sans-serif" font-size="10.5" text-anchor="middle" fill="#262626" stroke="#262626" stroke-width="0.2" textLength="120.8" lengthAdjust="spacingAndGlyphs">Simulated Taper Loss [dB]</text>
<text x="152.30" y="452.50" font-family="Liberation Sans, sans-serif" font-size="10.5" text-anchor="middle" fill="#262626" stroke="#262626" stroke-width="0.2" textLength="128" lengthAdjust="spacingAndGlyphs">Y-Junction Length (<tspan font-style="italic">L</tspan><tspan font-size="8.0" dy="3.2">Y</tspan><tspan dy="-3.2">) [μm]</tspan></text>
<text x="2.30" y="246.30" font-family="Liberation Sans, sans-serif" font-size="13" text-anchor="start" fill="#000" stroke="#000" stroke-width="0.2" textLength="13.9" lengthAdjust="spacingAndGlyphs">(c)</text>
<clipPath id="cd"><rect x="328.40" y="248.80" width="205.30" height="180.20"/></clipPath>
<path d="M328.40 429.00v-3.0M328.40 248.80v3.0M379.73 429.00v-3.0M379.73 248.80v3.0M431.05 429.00v-3.0M431.05 248.80v3.0M482.38 429.00v-3.0M482.38 248.80v3.0M533.70 429.00v-3.0M533.70 248.80v3.0M328.40 429.00h3.0M533.70 429.00h-3.0M328.40 410.98h3.0M533.70 410.98h-3.0M328.40 392.96h3.0M533.70 392.96h-3.0M328.40 374.94h3.0M533.70 374.94h-3.0M328.40 356.92h3.0M533.70 356.92h-3.0M328.40 338.90h3.0M533.70 338.90h-3.0M328.40 320.88h3.0M533.70 320.88h-3.0M328.40 302.86h3.0M533.70 302.86h-3.0M328.40 284.84h3.0M533.70 284.84h-3.0M328.40 266.82h3.0M533.70 266.82h-3.0M328.40 248.80h3.0M533.70 248.80h-3.0" stroke="#262626" stroke-width="1.4" fill="none"/>
<rect x="328.40" y="248.80" width="205.30" height="180.20" fill="none" stroke="#262626" stroke-width="1.3"/>
<g font-family="Liberation Sans, sans-serif" font-size="10" fill="#262626" stroke="#262626" stroke-width="0.2">
<text x="328.40" y="443.20" text-anchor="middle">1450</text>
<text x="379.73" y="443.20" text-anchor="middle">1500</text>
<text x="431.05" y="443.20" text-anchor="middle">1550</text>
<text x="482.38" y="443.20" text-anchor="middle">1600</text>
<text x="533.70" y="443.20" text-anchor="middle">1650</text>
<text x="324.80" y="433.50" text-anchor="end">0</text>
<text x="324.80" y="415.48" text-anchor="end">0.1</text>
<text x="324.80" y="397.46" text-anchor="end">0.2</text>
<text x="324.80" y="379.44" text-anchor="end">0.3</text>
<text x="324.80" y="361.42" text-anchor="end">0.4</text>
<text x="324.80" y="343.40" text-anchor="end">0.5</text>
<text x="324.80" y="325.38" text-anchor="end">0.6</text>
<text x="324.80" y="307.36" text-anchor="end">0.7</text>
<text x="324.80" y="289.34" text-anchor="end">0.8</text>
<text x="324.80" y="271.32" text-anchor="end">0.9</text>
<text x="324.80" y="253.30" text-anchor="end">1</text>
</g>
<polyline clip-path="url(#cd)" points="328.40,326.65 329.43,328.66 330.45,330.71 331.48,332.81 332.51,334.94 333.53,337.11 334.56,339.31 335.59,341.58 336.61,343.95 337.64,346.38 338.66,348.82 339.69,351.23 340.72,353.56 341.74,355.77 342.77,357.89 343.80,359.95 344.82,361.96 345.85,363.93 346.88,365.85 347.90,367.73 348.93,369.58 349.96,371.40 350.98,373.19 352.01,374.93 353.04,376.61 354.06,378.23 355.09,379.78 356.12,381.28 357.14,382.73 358.17,384.14 359.19,385.52 360.22,386.88 361.25,388.22 362.27,389.49 363.30,390.74 364.33,392.02 365.35,393.39 366.38,394.93 367.41,396.52 368.43,397.94 369.46,399.11 370.49,400.15 371.51,401.10 372.54,401.95 373.57,402.72 374.59,403.42 375.62,404.11 376.65,404.80 377.67,405.50 378.70,406.17 379.73,406.77 380.75,407.29 381.78,407.78 382.80,408.26 383.83,408.76 384.86,409.28 385.88,409.80 386.91,410.31 387.94,410.79 388.96,411.27 389.99,411.78 391.02,412.38 392.04,413.13 393.07,413.91 394.10,414.58 395.12,415.14 396.15,415.65 397.18,416.14 398.20,416.59 399.23,417.01 400.25,417.41 401.28,417.79 402.31,418.15 403.33,418.50 404.36,418.83 405.39,419.14 406.41,419.43 407.44,419.71 408.47,419.97 409.49,420.21 410.52,420.44 411.55,420.66 412.57,420.86 413.60,421.06 414.63,421.23 415.65,421.40 416.68,421.55 417.71,421.70 418.73,421.85 419.76,421.98 420.79,422.10 421.81,422.21 422.84,422.30 423.86,422.38 424.89,422.45 425.92,422.52 426.94,422.58 427.97,422.63 429.00,422.67 430.02,422.69 431.05,422.69 432.08,422.69 433.10,422.69 434.13,422.69 435.16,422.69 436.18,422.69 437.21,422.69 438.24,422.69 439.26,422.69 440.29,422.69 441.32,422.68 442.34,422.66 443.37,422.63 444.39,422.59 445.42,422.54 446.45,422.48 447.47,422.42 448.50,422.35 449.53,422.28 450.55,422.21 451.58,422.14 452.61,422.06 453.63,421.99 454.66,421.92 455.69,421.85 456.71,421.79 457.74,421.73 458.77,421.67 459.79,421.61 460.82,421.54 461.85,421.48 462.87,421.41 463.90,421.34 464.92,421.28 465.95,421.21 466.98,421.14 468.00,421.07 469.03,421.00 470.06,420.93 471.08,420.86 472.11,420.79 473.14,420.73 474.16,420.66 475.19,420.59 476.22,420.52 477.24,420.46 478.27,420.39 479.30,420.33 480.32,420.26 481.35,420.20 482.38,420.14 483.40,420.08 484.43,420.02 485.45,419.96 486.48,419.90 487.51,419.84 488.53,419.79 489.56,419.73 490.59,419.67 491.61,419.62 492.64,419.56 493.67,419.51 494.69,419.45 495.72,419.40 496.75,419.34 497.77,419.29 498.80,419.23 499.83,419.18 500.85,419.12 501.88,419.06 502.91,419.01 503.93,418.95 504.96,418.90 505.98,418.84 507.01,418.79 508.04,418.73 509.06,418.67 510.09,418.61 511.12,418.56 512.14,418.50 513.17,418.44 514.20,418.39 515.22,418.33 516.25,418.27 517.28,418.21 518.30,418.16 519.33,418.10 520.36,418.04 521.38,417.98 522.41,417.92 523.44,417.87 524.46,417.81 525.49,417.75 526.51,417.69 527.54,417.64 528.57,417.58 529.59,417.52 530.62,417.46 531.65,417.40 532.67,417.35 533.70,417.29" fill="none" stroke="#0072BD" stroke-width="1.5" stroke-linejoin="round"/>
<polyline clip-path="url(#cd)" points="328.40,305.92 329.43,308.70 330.45,311.44 331.48,314.16 332.51,316.85 333.53,319.51 334.56,322.15 335.59,324.77 336.61,327.36 337.64,329.92 338.66,332.47 339.69,334.99 340.72,337.50 341.74,339.98 342.77,342.45 343.80,344.89 344.82,347.30 345.85,349.66 346.88,351.97 347.90,354.22 348.93,356.40 349.96,358.54 350.98,360.64 352.01,362.69 353.04,364.68 354.06,366.63 355.09,368.51 356.12,370.31 357.14,372.05 358.17,373.78 359.19,375.51 360.22,377.28 361.25,379.11 362.27,380.99 363.30,382.89 364.33,384.79 365.35,386.68 366.38,388.62 367.41,390.53 368.43,392.28 369.46,393.80 370.49,395.18 371.51,396.47 372.54,397.71 373.57,398.91 374.59,400.05 375.62,401.12 376.65,402.13 377.67,403.08 378.70,403.98 379.73,404.84 380.75,405.68 381.78,406.48 382.80,407.25 383.83,408.01 384.86,408.75 385.88,409.47 386.91,410.14 387.94,410.75 388.96,411.32 389.99,411.92 391.02,412.60 392.04,413.41 393.07,414.23 394.10,414.94 395.12,415.55 396.15,416.11 397.18,416.64 398.20,417.13 399.23,417.61 400.25,418.06 401.28,418.50 402.31,418.94 403.33,419.36 404.36,419.78 405.39,420.17 406.41,420.55 407.44,420.90 408.47,421.22 409.49,421.52 410.52,421.81 411.55,422.09 412.57,422.35 413.60,422.59 414.63,422.81 415.65,423.02 416.68,423.20 417.71,423.38 418.73,423.55 419.76,423.70 420.79,423.85 421.81,423.98 422.84,424.09 423.86,424.20 424.89,424.30 425.92,424.40 426.94,424.50 427.97,424.58 429.00,424.64 430.02,424.67 431.05,424.67 432.08,424.67 433.10,424.66 434.13,424.64 435.16,424.62 436.18,424.60 437.21,424.57 438.24,424.54 439.26,424.51 440.29,424.49 441.32,424.45 442.34,424.41 443.37,424.37 444.39,424.32 445.42,424.27 446.45,424.21 447.47,424.15 448.50,424.09 449.53,424.02 450.55,423.96 451.58,423.90 452.61,423.83 453.63,423.77 454.66,423.71 455.69,423.65 456.71,423.59 457.74,423.54 458.77,423.49 459.79,423.43 460.82,423.38 461.85,423.32 462.87,423.27 463.90,423.21 464.92,423.16 465.95,423.10 466.98,423.05 468.00,423.00 469.03,422.94 470.06,422.89 471.08,422.84 472.11,422.78 473.14,422.73 474.16,422.68 475.19,422.63 476.22,422.58 477.24,422.53 478.27,422.49 479.30,422.44 480.32,422.40 481.35,422.35 482.38,422.31 483.40,422.27 484.43,422.23 485.45,422.19 486.48,422.15 487.51,422.11 488.53,422.07 489.56,422.03 490.59,421.99 491.61,421.95 492.64,421.92 493.67,421.88 494.69,421.84 495.72,421.81 496.75,421.77 497.77,421.74 498.80,421.70 499.83,421.67 500.85,421.64 501.88,421.61 502.91,421.58 503.93,421.55 504.96,421.52 505.98,421.49 507.01,421.46 508.04,421.43 509.06,421.40 510.09,421.38 511.12,421.35 512.14,421.33 513.17,421.30 514.20,421.28 515.22,421.25 516.25,421.23 517.28,421.20 518.30,421.18 519.33,421.16 520.36,421.13 521.38,421.11 522.41,421.09 523.44,421.07 524.46,421.05 525.49,421.03 526.51,421.01 527.54,420.99 528.57,420.97 529.59,420.96 530.62,420.94 531.65,420.92 532.67,420.91 533.70,420.89" fill="none" stroke="#D95319" stroke-width="1.5" stroke-linejoin="round"/>
<polyline clip-path="url(#cd)" points="328.40,288.26 329.43,291.81 330.45,295.30 331.48,298.68 332.51,301.90 333.53,305.10 334.56,308.28 335.59,311.44 336.61,314.55 337.64,317.63 338.66,320.65 339.69,323.61 340.72,326.51 341.74,329.33 342.77,332.08 343.80,334.73 344.82,337.29 345.85,339.74 346.88,342.07 347.90,344.27 348.93,346.37 349.96,348.40 350.98,350.39 352.01,352.35 353.04,354.32 354.06,356.33 355.09,358.36 356.12,360.37 357.14,362.36 358.17,364.36 359.19,366.39 360.22,368.47 361.25,370.63 362.27,372.92 363.30,375.30 364.33,377.69 365.35,380.04 366.38,382.28 367.41,384.35 368.43,386.29 369.46,388.15 370.49,389.93 371.51,391.64 372.54,393.28 373.57,394.86 374.59,396.36 375.62,397.78 376.65,399.13 377.67,400.45 378.70,401.66 379.73,402.70 380.75,403.56 381.78,404.32 382.80,405.08 383.83,405.89 384.86,406.73 385.88,407.57 386.91,408.35 387.94,409.08 388.96,409.78 389.99,410.46 391.02,411.14 392.04,411.81 393.07,412.47 394.10,413.12 395.12,413.78 396.15,414.45 397.18,415.15 398.20,415.87 399.23,416.56 400.25,417.21 401.28,417.78 402.31,418.28 403.33,418.75 404.36,419.19 405.39,419.60 406.41,419.99 407.44,420.35 408.47,420.68 409.49,420.99 410.52,421.28 411.55,421.55 412.57,421.81 413.60,422.05 414.63,422.27 415.65,422.47 416.68,422.66 417.71,422.83 418.73,422.98 419.76,423.13 420.79,423.27 421.81,423.40 422.84,423.54 423.86,423.68 424.89,423.82 425.92,423.95 426.94,424.09 427.97,424.21 429.00,424.33 430.02,424.44 431.05,424.54 432.08,424.65 433.10,424.76 434.13,424.86 435.16,424.96 436.18,425.05 437.21,425.12 438.24,425.18 439.26,425.21 440.29,425.22 441.32,425.21 442.34,425.19 443.37,425.16 444.39,425.13 445.42,425.09 446.45,425.04 447.47,424.99 448.50,424.94 449.53,424.88 450.55,424.82 451.58,424.76 452.61,424.70 453.63,424.65 454.66,424.59 455.69,424.54 456.71,424.50 457.74,424.45 458.77,424.40 459.79,424.36 460.82,424.31 461.85,424.26 462.87,424.21 463.90,424.16 464.92,424.11 465.95,424.07 466.98,424.02 468.00,423.97 469.03,423.92 470.06,423.87 471.08,423.82 472.11,423.78 473.14,423.73 474.16,423.69 475.19,423.65 476.22,423.61 477.24,423.57 478.27,423.53 479.30,423.49 480.32,423.46 481.35,423.43 482.38,423.40 483.40,423.37 484.43,423.34 485.45,423.32 486.48,423.29 487.51,423.27 488.53,423.24 489.56,423.22 490.59,423.20 491.61,423.18 492.64,423.15 493.67,423.13 494.69,423.11 495.72,423.09 496.75,423.07 497.77,423.05 498.80,423.03 499.83,423.01 500.85,423.00 501.88,422.98 502.91,422.96 503.93,422.94 504.96,422.93 505.98,422.91 507.01,422.89 508.04,422.87 509.06,422.86 510.09,422.84 511.12,422.82 512.14,422.81 513.17,422.79 514.20,422.77 515.22,422.76 516.25,422.74 517.28,422.73 518.30,422.71 519.33,422.70 520.36,422.68 521.38,422.67 522.41,422.65 523.44,422.64 524.46,422.62 525.49,422.61 526.51,422.60 527.54,422.58 528.57,422.57 529.59,422.56 530.62,422.55 531.65,422.54 532.67,422.52 533.70,422.51" fill="none" stroke="#EDB120" stroke-width="1.5" stroke-linejoin="round"/>
<polyline clip-path="url(#cd)" points="328.40,257.99 329.43,261.51 330.45,265.01 331.48,268.47 332.51,271.90 333.53,275.30 334.56,278.67 335.59,282.00 336.61,285.29 337.64,288.55 338.66,291.78 339.69,294.96 340.72,298.11 341.74,301.21 342.77,304.27 343.80,307.29 344.82,310.27 345.85,313.21 346.88,316.12 347.90,319.01 348.93,321.87 349.96,324.72 350.98,327.55 352.01,330.38 353.04,333.20 354.06,336.02 355.09,338.85 356.12,341.70 357.14,344.58 358.17,347.46 359.19,350.27 360.22,352.95 361.25,355.44 362.27,357.80 363.30,360.04 364.33,362.23 365.35,364.37 366.38,366.53 367.41,368.72 368.43,370.97 369.46,373.25 370.49,375.47 371.51,377.56 372.54,379.48 373.57,381.25 374.59,382.92 375.62,384.55 376.65,386.16 377.67,387.75 378.70,389.27 379.73,390.72 380.75,392.05 381.78,393.32 382.80,394.59 383.83,395.95 384.86,397.39 385.88,398.81 386.91,400.11 387.94,401.28 388.96,402.37 389.99,403.42 391.02,404.49 392.04,405.56 393.07,406.59 394.10,407.56 395.12,408.43 396.15,409.24 397.18,410.04 398.20,410.84 399.23,411.65 400.25,412.44 401.28,413.24 402.31,414.05 403.33,414.89 404.36,415.73 405.39,416.55 406.41,417.36 407.44,418.13 408.47,418.84 409.49,419.52 410.52,420.18 411.55,420.82 412.57,421.44 413.60,422.01 414.63,422.52 415.65,422.97 416.68,423.36 417.71,423.72 418.73,424.06 419.76,424.37 420.79,424.65 421.81,424.91 422.84,425.13 423.86,425.34 424.89,425.54 425.92,425.73 426.94,425.91 427.97,426.07 429.00,426.19 430.02,426.27 431.05,426.31 432.08,426.35 433.10,426.38 434.13,426.40 435.16,426.43 436.18,426.45 437.21,426.46 438.24,426.47 439.26,426.48 440.29,426.48 441.32,426.47 442.34,426.47 443.37,426.45 444.39,426.44 445.42,426.42 446.45,426.40 447.47,426.37 448.50,426.35 449.53,426.32 450.55,426.29 451.58,426.26 452.61,426.23 453.63,426.20 454.66,426.17 455.69,426.14 456.71,426.12 457.74,426.09 458.77,426.06 459.79,426.03 460.82,425.99 461.85,425.96 462.87,425.92 463.90,425.88 464.92,425.84 465.95,425.80 466.98,425.76 468.00,425.72 469.03,425.68 470.06,425.63 471.08,425.59 472.11,425.55 473.14,425.51 474.16,425.47 475.19,425.43 476.22,425.39 477.24,425.36 478.27,425.32 479.30,425.29 480.32,425.26 481.35,425.23 482.38,425.20 483.40,425.18 484.43,425.15 485.45,425.13 486.48,425.10 487.51,425.08 488.53,425.06 489.56,425.04 490.59,425.01 491.61,424.99 492.64,424.97 493.67,424.95 494.69,424.93 495.72,424.91 496.75,424.89 497.77,424.87 498.80,424.85 499.83,424.84 500.85,424.82 501.88,424.80 502.91,424.78 503.93,424.76 504.96,424.74 505.98,424.72 507.01,424.70 508.04,424.68 509.06,424.65 510.09,424.63 511.12,424.61 512.14,424.59 513.17,424.57 514.20,424.55 515.22,424.52 516.25,424.50 517.28,424.48 518.30,424.46 519.33,424.44 520.36,424.42 521.38,424.40 522.41,424.37 523.44,424.35 524.46,424.33 525.49,424.31 526.51,424.29 527.54,424.27 528.57,424.24 529.59,424.22 530.62,424.20 531.65,424.18 532.67,424.16 533.70,424.13" fill="none" stroke="#7E2F8E" stroke-width="1.5" stroke-linejoin="round"/>
<polyline clip-path="url(#cd)" points="328.40,401.79 329.43,401.95 330.45,402.11 331.48,402.27 332.51,402.42 333.53,402.56 334.56,402.71 335.59,402.84 336.61,402.98 337.64,403.10 338.66,403.22 339.69,403.33 340.72,403.44 341.74,403.53 342.77,403.62 343.80,403.70 344.82,403.77 345.85,403.84 346.88,403.90 347.90,403.97 348.93,404.03 349.96,404.10 350.98,404.15 352.01,404.21 353.04,404.26 354.06,404.31 355.09,404.36 356.12,404.40 357.14,404.43 358.17,404.46 359.19,404.48 360.22,404.49 361.25,404.49 362.27,404.49 363.30,404.48 364.33,404.47 365.35,404.45 366.38,404.43 367.41,404.40 368.43,404.37 369.46,404.34 370.49,404.31 371.51,404.27 372.54,404.24 373.57,404.21 374.59,404.18 375.62,404.15 376.65,404.12 377.67,404.09 378.70,404.06 379.73,404.03 380.75,404.01 381.78,403.98 382.80,403.95 383.83,403.92 384.86,403.88 385.88,403.85 386.91,403.81 387.94,403.77 388.96,403.73 389.99,403.67 391.02,403.61 392.04,403.55 393.07,403.49 394.10,403.42 395.12,403.36 396.15,403.31 397.18,403.26 398.20,403.23 399.23,403.21 400.25,403.18 401.28,403.16 402.31,403.14 403.33,403.12 404.36,403.10 405.39,403.08 406.41,403.07 407.44,403.05 408.47,403.04 409.49,403.02 410.52,403.01 411.55,403.00 412.57,402.99 413.60,402.97 414.63,402.96 415.65,402.95 416.68,402.93 417.71,402.92 418.73,402.90 419.76,402.89 420.79,402.87 421.81,402.85 422.84,402.84 423.86,402.82 424.89,402.80 425.92,402.78 426.94,402.77 427.97,402.75 429.00,402.73 430.02,402.71 431.05,402.69 432.08,402.67 433.10,402.66 434.13,402.64 435.16,402.62 436.18,402.60 437.21,402.58 438.24,402.56 439.26,402.55 440.29,402.53 441.32,402.51 442.34,402.49 443.37,402.47 444.39,402.45 445.42,402.43 446.45,402.40 447.47,402.38 448.50,402.36 449.53,402.33 450.55,402.31 451.58,402.29 452.61,402.26 453.63,402.24 454.66,402.22 455.69,402.21 456.71,402.19 457.74,402.18 458.77,402.17 459.79,402.16 460.82,402.15 461.85,402.15 462.87,402.15 463.90,402.15 464.92,402.15 465.95,402.15 466.98,402.15 468.00,402.15 469.03,402.15 470.06,402.15 471.08,402.15 472.11,402.15 473.14,402.15 474.16,402.15 475.19,402.15 476.22,402.15 477.24,402.15 478.27,402.15 479.30,402.15 480.32,402.15 481.35,402.15 482.38,402.15 483.40,402.15 484.43,402.16 485.45,402.16 486.48,402.17 487.51,402.18 488.53,402.19 489.56,402.21 490.59,402.23 491.61,402.24 492.64,402.27 493.67,402.29 494.69,402.31 495.72,402.33 496.75,402.36 497.77,402.39 498.80,402.42 499.83,402.44 500.85,402.47 501.88,402.50 502.91,402.53 503.93,402.56 504.96,402.60 505.98,402.63 507.01,402.66 508.04,402.69 509.06,402.72 510.09,402.76 511.12,402.80 512.14,402.84 513.17,402.88 514.20,402.93 515.22,402.97 516.25,403.02 517.28,403.08 518.30,403.13 519.33,403.19 520.36,403.24 521.38,403.30 522.41,403.36 523.44,403.43 524.46,403.49 525.49,403.56 526.51,403.63 527.54,403.70 528.57,403.77 529.59,403.84 530.62,403.91 531.65,403.98 532.67,404.06 533.70,404.13" fill="none" stroke="#0072BD" stroke-width="1.5" stroke-dasharray="5.6 5.7" stroke-linejoin="round"/>
<polyline clip-path="url(#cd)" points="328.40,398.91 329.43,399.03 330.45,399.16 331.48,399.28 332.51,399.40 333.53,399.52 334.56,399.64 335.59,399.75 336.61,399.85 337.64,399.95 338.66,400.05 339.69,400.14 340.72,400.23 341.74,400.31 342.77,400.39 343.80,400.46 344.82,400.53 345.85,400.59 346.88,400.65 347.90,400.72 348.93,400.78 349.96,400.84 350.98,400.90 352.01,400.96 353.04,401.01 354.06,401.06 355.09,401.11 356.12,401.15 357.14,401.18 358.17,401.21 359.19,401.23 360.22,401.24 361.25,401.25 362.27,401.25 363.30,401.25 364.33,401.25 365.35,401.25 366.38,401.25 367.41,401.25 368.43,401.25 369.46,401.25 370.49,401.25 371.51,401.25 372.54,401.25 373.57,401.25 374.59,401.25 375.62,401.25 376.65,401.25 377.67,401.24 378.70,401.24 379.73,401.23 380.75,401.21 381.78,401.20 382.80,401.18 383.83,401.16 384.86,401.14 385.88,401.12 386.91,401.09 387.94,401.07 388.96,401.04 389.99,400.99 391.02,400.94 392.04,400.88 393.07,400.82 394.10,400.76 395.12,400.69 396.15,400.63 397.18,400.58 398.20,400.53 399.23,400.49 400.25,400.45 401.28,400.41 402.31,400.37 403.33,400.34 404.36,400.30 405.39,400.27 406.41,400.24 407.44,400.21 408.47,400.18 409.49,400.15 410.52,400.12 411.55,400.09 412.57,400.06 413.60,400.03 414.63,400.00 415.65,399.97 416.68,399.94 417.71,399.91 418.73,399.87 419.76,399.84 420.79,399.81 421.81,399.77 422.84,399.74 423.86,399.70 424.89,399.67 425.92,399.63 426.94,399.60 427.97,399.56 429.00,399.52 430.02,399.49 431.05,399.45 432.08,399.41 433.10,399.38 434.13,399.34 435.16,399.31 436.18,399.27 437.21,399.23 438.24,399.20 439.26,399.16 440.29,399.12 441.32,399.09 442.34,399.05 443.37,399.01 444.39,398.97 445.42,398.93 446.45,398.89 447.47,398.84 448.50,398.80 449.53,398.76 450.55,398.71 451.58,398.67 452.61,398.63 453.63,398.59 454.66,398.55 455.69,398.52 456.71,398.49 457.74,398.45 458.77,398.43 459.79,398.40 460.82,398.38 461.85,398.37 462.87,398.35 463.90,398.34 464.92,398.32 465.95,398.31 466.98,398.30 468.00,398.28 469.03,398.27 470.06,398.26 471.08,398.25 472.11,398.24 473.14,398.23 474.16,398.22 475.19,398.21 476.22,398.21 477.24,398.20 478.27,398.20 479.30,398.19 480.32,398.19 481.35,398.19 482.38,398.19 483.40,398.19 484.43,398.20 485.45,398.21 486.48,398.22 487.51,398.24 488.53,398.27 489.56,398.29 490.59,398.32 491.61,398.36 492.64,398.39 493.67,398.43 494.69,398.47 495.72,398.51 496.75,398.56 497.77,398.60 498.80,398.65 499.83,398.70 500.85,398.75 501.88,398.80 502.91,398.84 503.93,398.89 504.96,398.94 505.98,398.99 507.01,399.04 508.04,399.09 509.06,399.13 510.09,399.18 511.12,399.23 512.14,399.29 513.17,399.34 514.20,399.40 515.22,399.45 516.25,399.51 517.28,399.57 518.30,399.63 519.33,399.70 520.36,399.76 521.38,399.83 522.41,399.90 523.44,399.96 524.46,400.03 525.49,400.10 526.51,400.18 527.54,400.25 528.57,400.32 529.59,400.40 530.62,400.47 531.65,400.55 532.67,400.63 533.70,400.71" fill="none" stroke="#D95319" stroke-width="1.5" stroke-dasharray="5.6 5.7" stroke-linejoin="round"/>
<polyline clip-path="url(#cd)" points="328.40,397.83 329.43,398.00 330.45,398.18 331.48,398.35 332.51,398.52 333.53,398.68 334.56,398.84 335.59,399.00 336.61,399.15 337.64,399.30 338.66,399.44 339.69,399.58 340.72,399.71 341.74,399.83 342.77,399.95 343.80,400.06 344.82,400.17 345.85,400.27 346.88,400.37 347.90,400.47 348.93,400.57 349.96,400.67 350.98,400.76 352.01,400.85 353.04,400.94 354.06,401.02 355.09,401.10 356.12,401.17 357.14,401.23 358.17,401.29 359.19,401.35 360.22,401.39 361.25,401.43 362.27,401.46 363.30,401.49 364.33,401.53 365.35,401.55 366.38,401.58 367.41,401.59 368.43,401.61 369.46,401.61 370.49,401.61 371.51,401.60 372.54,401.59 373.57,401.58 374.59,401.56 375.62,401.54 376.65,401.52 377.67,401.49 378.70,401.46 379.73,401.43 380.75,401.38 381.78,401.30 382.80,401.19 383.83,401.07 384.86,400.92 385.88,400.76 386.91,400.59 387.94,400.42 388.96,400.24 389.99,400.02 391.02,399.77 392.04,399.49 393.07,399.20 394.10,398.89 395.12,398.58 396.15,398.28 397.18,397.98 398.20,397.70 399.23,397.43 400.25,397.16 401.28,396.88 402.31,396.60 403.33,396.32 404.36,396.05 405.39,395.78 406.41,395.53 407.44,395.29 408.47,395.07 409.49,394.87 410.52,394.69 411.55,394.54 412.57,394.39 413.60,394.26 414.63,394.13 415.65,394.01 416.68,393.89 417.71,393.78 418.73,393.66 419.76,393.53 420.79,393.40 421.81,393.26 422.84,393.11 423.86,392.96 424.89,392.80 425.92,392.64 426.94,392.48 427.97,392.32 429.00,392.16 430.02,392.00 431.05,391.85 432.08,391.71 433.10,391.58 434.13,391.44 435.16,391.30 436.18,391.17 437.21,391.04 438.24,390.92 439.26,390.80 440.29,390.68 441.32,390.57 442.34,390.47 443.37,390.38 444.39,390.29 445.42,390.20 446.45,390.11 447.47,390.03 448.50,389.94 449.53,389.86 450.55,389.78 451.58,389.70 452.61,389.63 453.63,389.55 454.66,389.48 455.69,389.41 456.71,389.35 457.74,389.29 458.77,389.23 459.79,389.18 460.82,389.12 461.85,389.08 462.87,389.03 463.90,389.00 464.92,388.96 465.95,388.92 466.98,388.89 468.00,388.85 469.03,388.81 470.06,388.78 471.08,388.75 472.11,388.72 473.14,388.70 474.16,388.68 475.19,388.66 476.22,388.65 477.24,388.64 478.27,388.64 479.30,388.64 480.32,388.66 481.35,388.68 482.38,388.72 483.40,388.76 484.43,388.81 485.45,388.86 486.48,388.92 487.51,388.99 488.53,389.06 489.56,389.12 490.59,389.20 491.61,389.27 492.64,389.34 493.67,389.41 494.69,389.47 495.72,389.54 496.75,389.60 497.77,389.66 498.80,389.73 499.83,389.79 500.85,389.86 501.88,389.93 502.91,390.00 503.93,390.08 504.96,390.15 505.98,390.22 507.01,390.30 508.04,390.37 509.06,390.45 510.09,390.53 511.12,390.61 512.14,390.68 513.17,390.76 514.20,390.84 515.22,390.92 516.25,391.00 517.28,391.08 518.30,391.16 519.33,391.24 520.36,391.32 521.38,391.40 522.41,391.48 523.44,391.56 524.46,391.65 525.49,391.73 526.51,391.81 527.54,391.90 528.57,391.98 529.59,392.07 530.62,392.16 531.65,392.24 532.67,392.33 533.70,392.42" fill="none" stroke="#EDB120" stroke-width="1.5" stroke-dasharray="5.6 5.7" stroke-linejoin="round"/>
<polyline clip-path="url(#cd)" points="328.40,394.94 329.43,395.17 330.45,395.40 331.48,395.62 332.51,395.84 333.53,396.06 334.56,396.27 335.59,396.48 336.61,396.68 337.64,396.89 338.66,397.08 339.69,397.28 340.72,397.46 341.74,397.65 342.77,397.83 343.80,398.01 344.82,398.18 345.85,398.37 346.88,398.56 347.90,398.76 348.93,398.95 349.96,399.13 350.98,399.31 352.01,399.47 353.04,399.62 354.06,399.75 355.09,399.85 356.12,399.94 357.14,399.99 358.17,400.02 359.19,400.06 360.22,400.09 361.25,400.11 362.27,400.14 363.30,400.15 364.33,400.16 365.35,400.17 366.38,400.13 367.41,400.04 368.43,399.89 369.46,399.69 370.49,399.46 371.51,399.19 372.54,398.90 373.57,398.60 374.59,398.29 375.62,397.98 376.65,397.67 377.67,397.30 378.70,396.89 379.73,396.43 380.75,395.94 381.78,395.44 382.80,394.92 383.83,394.40 384.86,393.90 385.88,393.41 386.91,392.94 387.94,392.45 388.96,391.95 389.99,391.45 391.02,390.95 392.04,390.46 393.07,389.98 394.10,389.53 395.12,389.12 396.15,388.74 397.18,388.39 398.20,388.05 399.23,387.70 400.25,387.37 401.28,387.05 402.31,386.75 403.33,386.49 404.36,386.27 405.39,386.09 406.41,385.96 407.44,385.88 408.47,385.80 409.49,385.73 410.52,385.67 411.55,385.61 412.57,385.55 413.60,385.51 414.63,385.47 415.65,385.44 416.68,385.41 417.71,385.40 418.73,385.39 419.76,385.41 420.79,385.46 421.81,385.55 422.84,385.66 423.86,385.79 424.89,385.94 425.92,386.09 426.94,386.23 427.97,386.37 429.00,386.50 430.02,386.61 431.05,386.69 432.08,386.78 433.10,386.87 434.13,386.95 435.16,387.04 436.18,387.12 437.21,387.19 438.24,387.25 439.26,387.31 440.29,387.34 441.32,387.37 442.34,387.37 443.37,387.37 444.39,387.36 445.42,387.35 446.45,387.33 447.47,387.31 448.50,387.28 449.53,387.25 450.55,387.22 451.58,387.19 452.61,387.16 453.63,387.12 454.66,387.09 455.69,387.05 456.71,387.01 457.74,386.97 458.77,386.92 459.79,386.85 460.82,386.78 461.85,386.70 462.87,386.61 463.90,386.53 464.92,386.44 465.95,386.35 466.98,386.27 468.00,386.19 469.03,386.12 470.06,386.06 471.08,386.01 472.11,385.97 473.14,385.94 474.16,385.93 475.19,385.94 476.22,385.95 477.24,385.97 478.27,386.00 479.30,386.03 480.32,386.07 481.35,386.11 482.38,386.16 483.40,386.20 484.43,386.25 485.45,386.29 486.48,386.34 487.51,386.39 488.53,386.45 489.56,386.52 490.59,386.59 491.61,386.66 492.64,386.74 493.67,386.82 494.69,386.90 495.72,386.98 496.75,387.07 497.77,387.16 498.80,387.25 499.83,387.33 500.85,387.42 501.88,387.51 502.91,387.60 503.93,387.68 504.96,387.76 505.98,387.84 507.01,387.91 508.04,387.99 509.06,388.06 510.09,388.13 511.12,388.21 512.14,388.28 513.17,388.35 514.20,388.42 515.22,388.49 516.25,388.56 517.28,388.63 518.30,388.70 519.33,388.77 520.36,388.84 521.38,388.91 522.41,388.98 523.44,389.05 524.46,389.12 525.49,389.19 526.51,389.25 527.54,389.32 528.57,389.39 529.59,389.45 530.62,389.52 531.65,389.59 532.67,389.65 533.70,389.72" fill="none" stroke="#7E2F8E" stroke-width="1.5" stroke-dasharray="5.6 5.7" stroke-linejoin="round"/>
<text x="453.40" y="263.70" font-family="Liberation Sans, sans-serif" font-size="9" text-anchor="start" fill="#000" stroke="#000" stroke-width="0" font-weight="bold" textLength="33.7" lengthAdjust="spacingAndGlyphs">TE / TM</text>
<path d="M448.7 274.50H466.9" stroke="#0072BD" stroke-width="1.5"/>
<path d="M474.5 274.50H479.1M483.6 274.50H488.7" stroke="#0072BD" stroke-width="1.5"/>
<text x="468.20" y="278.10" font-family="Liberation Sans, sans-serif" font-size="10" text-anchor="start" fill="#262626" stroke="#262626" stroke-width="0.2">/</text>
<text x="494.90" y="278.10" font-family="Liberation Sans, sans-serif" font-size="10" text-anchor="start" fill="#262626" stroke="#262626" stroke-width="0.2">140 nm</text>
<path d="M448.7 287.37H466.9" stroke="#D95319" stroke-width="1.5"/>
<path d="M474.5 287.37H479.1M483.6 287.37H488.7" stroke="#D95319" stroke-width="1.5"/>
<text x="468.20" y="290.97" font-family="Liberation Sans, sans-serif" font-size="10" text-anchor="start" fill="#262626" stroke="#262626" stroke-width="0.2">/</text>
<text x="494.90" y="290.97" font-family="Liberation Sans, sans-serif" font-size="10" text-anchor="start" fill="#262626" stroke="#262626" stroke-width="0.2">160 nm</text>
<path d="M448.7 300.24H466.9" stroke="#EDB120" stroke-width="1.5"/>
<path d="M474.5 300.24H479.1M483.6 300.24H488.7" stroke="#EDB120" stroke-width="1.5"/>
<text x="468.20" y="303.84" font-family="Liberation Sans, sans-serif" font-size="10" text-anchor="start" fill="#262626" stroke="#262626" stroke-width="0.2">/</text>
<text x="494.90" y="303.84" font-family="Liberation Sans, sans-serif" font-size="10" text-anchor="start" fill="#262626" stroke="#262626" stroke-width="0.2">180 nm</text>
<path d="M448.7 313.11H466.9" stroke="#7E2F8E" stroke-width="1.5"/>
<path d="M474.5 313.11H479.1M483.6 313.11H488.7" stroke="#7E2F8E" stroke-width="1.5"/>
<text x="468.20" y="316.71" font-family="Liberation Sans, sans-serif" font-size="10" text-anchor="start" fill="#262626" stroke="#262626" stroke-width="0.2">/</text>
<text x="494.90" y="316.71" font-family="Liberation Sans, sans-serif" font-size="10" text-anchor="start" fill="#262626" stroke="#262626" stroke-width="0.2">200 nm</text>
<text x="410.90" y="366.80" font-family="Liberation Sans, sans-serif" font-size="12.5" text-anchor="start" fill="#000" stroke="#000" stroke-width="0.2" textLength="104.1" lengthAdjust="spacingAndGlyphs">50:50 splitting ratio</text>
<text transform="translate(306.30,338.60) rotate(-90)" x="0" y="0" font-family="Liberation Sans, sans-serif" font-size="11.3" text-anchor="middle" fill="#262626" stroke="#262626" stroke-width="0.2" textLength="140.3" lengthAdjust="spacingAndGlyphs">Simulated Excess Loss [dB]</text>
<text x="431.00" y="457.10" font-family="Liberation Sans, sans-serif" font-size="11.3" text-anchor="middle" fill="#262626" stroke="#262626" stroke-width="0.2" textLength="85" lengthAdjust="spacingAndGlyphs">Wavelength [nm]</text>
<text x="286.30" y="246.30" font-family="Liberation Sans, sans-serif" font-size="13" text-anchor="start" fill="#000" stroke="#000" stroke-width="0.2" textLength="15.4" lengthAdjust="spacingAndGlyphs">(d)</text>
</g>
</svg></body></html>
